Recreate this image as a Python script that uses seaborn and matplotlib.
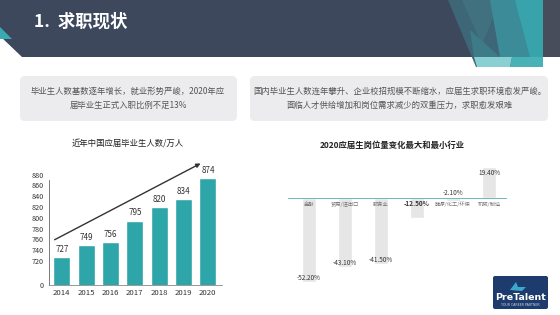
import numpy as np
import pandas as pd
import matplotlib.pyplot as plt
import seaborn as sns
from matplotlib.patches import Polygon, FancyBboxPatch

# ------------------------------------------------------------
# data
# ------------------------------------------------------------
years = ["2014", "2015", "2016", "2017", "2018", "2019", "2020"]
grads = [727, 749, 756, 795, 820, 834, 874]

industries = ["金融", "贸易/进出口", "服务业", "", "能源/化工/环保", "机械/制造"]
change_pct = [-52.2, -43.1, -41.5, -12.5, -2.1, 19.4]

left_ticks = [720, 740, 760, 780, 800, 820, 840, 860, 880]

W, H = 560, 315
TEAL = "#2ea5a9"
NAVY = "#3e485d"


def px(x0, y0, x1, y1):
    # pixel box -> figure fraction
    return [x0 / W, 1 - y1 / H, (x1 - x0) / W, (y1 - y0) / H]


sns.set_theme(style="white")
plt.rcParams["font.family"] = ["Noto Sans CJK SC", "DejaVu Sans"]

fig = plt.figure(figsize=(5.6, 3.15), dpi=100)
fig.patch.set_facecolor("white")

# ------------------------------------------------------------
# background: header band, decorations, text boxes, logo
# ------------------------------------------------------------
bg = fig.add_axes([0, 0, 1, 1], zorder=0)
bg.set_xlim(0, W)
bg.set_ylim(H, 0)
bg.axis("off")

bg.add_patch(Polygon([(0, 0), (W, 0), (W, 57), (22, 57), (0, 36)], closed=True, color=NAVY, lw=0))
bg.add_patch(Polygon([(0, 27), (12, 39), (0, 39)], closed=True, color="#3aa9b0", lw=0))

# right side teal facets
bg.add_patch(Polygon([(448, 0), (543, 0), (543, 67), (476, 67)], closed=True, color="#3d6676", lw=0))
bg.add_patch(Polygon([(462, 0), (500, 0), (482, 45)], closed=True, color="#41707f", lw=0))
bg.add_patch(Polygon([(490, 0), (543, 0), (543, 57), (500, 57)], closed=True, color="#3b8c98", lw=0))
bg.add_patch(Polygon([(515, 0), (543, 0), (543, 57), (530, 57)], closed=True, color="#38a3ab", lw=0))
bg.add_patch(Polygon([(470, 30), (500, 57), (474, 57)], closed=True, color="#3e7b89", lw=0))
bg.add_patch(Polygon([(474, 57), (512, 57), (510, 67), (477, 67)], closed=True, color="#8ad0d3", lw=0))
bg.add_patch(Polygon([(512, 57), (543, 57), (543, 67), (510, 67)], closed=True, color="#48b2b7", lw=0))
bg.add_patch(Polygon([(543, 0), (W, 0), (W, 57), (543, 57)], closed=True, color="#474d5a", lw=0))

bg.text(34, 22, "1.  求职现状", color="white", fontsize=12.5, fontweight="bold", va="center", ha="left")

# text boxes
for x0, x1 in [(20, 237), (250, 548)]:
    bg.add_patch(FancyBboxPatch((x0 + 5, 81), x1 - x0 - 10, 35,
                                boxstyle="round,pad=5", color="#ececee", lw=0))
txt_kw = dict(fontsize=6.0, color="#555555", ha="center", va="center")
bg.text(128, 91, "毕业生人数基数逐年增长，就业形势严峻，2020年应", **txt_kw)
bg.text(128, 105, "届毕业生正式入职比例不足13%", **txt_kw)
bg.text(400, 91, "国内毕业生人数连年攀升、企业校招规模不断缩水，应届生求职环境愈发严峻。", **txt_kw)
bg.text(400, 105, "面临人才供给增加和岗位需求减少的双重压力，求职愈发艰难", **txt_kw)

# chart titles
bg.text(128, 143, "近年中国应届毕业生人数/万人", fontsize=6.0, color="#222222", ha="center", va="center")
bg.text(392, 145, "2020应届生岗位量变化最大和最小行业", fontsize=6.0, color="#222222", ha="center", va="center",
        fontweight="bold")

# logo
bg.add_patch(FancyBboxPatch((495, 278), 51, 29, boxstyle="round,pad=2", color="#1d3b6c", lw=0))
bg.add_patch(Polygon([(510, 290), (516, 282), (518, 287), (526, 287), (522, 291)], closed=True, color="#3aa9c9", lw=0))
bg.text(520.5, 297, "PreTalent", fontsize=6.8, color="white", ha="center", va="center", fontweight="bold",
        family="DejaVu Sans")
bg.text(520.5, 304.5, "YOUR CAREER PARTNER", fontsize=2.3, color="#c8d4e6", ha="center", va="center",
        family="DejaVu Sans")

# ------------------------------------------------------------
# left chart: graduates per year
# ------------------------------------------------------------
ax = fig.add_axes(px(49, 160, 222, 285), zorder=2)
ax.patch.set_alpha(0)
df1 = pd.DataFrame({"year": years, "grads": grads})
sns.barplot(data=df1, x="year", y="grads", color=TEAL, saturation=1, width=0.7, ax=ax)
ax.set_ylim(675.6, 907)
ax.set_xlim(-0.53, 6.58)
ax.set_yticks([675.6] + left_ticks)
ax.set_yticklabels(["0"] + [str(t) for t in left_ticks])
ax.set_xlabel("")
ax.set_ylabel("")
ax.tick_params(axis="y", labelsize=5.2, colors="#333333", length=0, pad=4)
ax.tick_params(axis="x", labelsize=5.6, colors="#333333", length=0, pad=3)
for s in ["top", "right"]:
    ax.spines[s].set_visible(False)
ax.spines["left"].set_bounds(675.6, 870)
ax.spines["left"].set_color("#666666")
ax.spines["bottom"].set_color("#888888")
ax.spines["left"].set_linewidth(0.6)
ax.spines["bottom"].set_linewidth(0.6)
for i, v in enumerate(grads):
    ax.text(i, v + 14, str(v), ha="center", va="center", fontsize=5.8, color="#333333")
ax.annotate("", xy=(5.8, 903), xytext=(-0.4, 757),
            arrowprops=dict(arrowstyle="-|>", color="#333333", lw=1.0, mutation_scale=6),
            annotation_clip=False)

# ------------------------------------------------------------
# right chart: job change by industry
# ------------------------------------------------------------
ax2 = fig.add_axes(px(288, 160, 507, 290), zorder=2)
ax2.patch.set_alpha(0)
df2 = pd.DataFrame({"industry": [n if n else " " for n in industries], "pct": change_pct})
df2["pos"] = range(len(df2))
sns.barplot(data=df2, x="pos", y="pct", color="#e6e6e6", saturation=1, width=0.37, ax=ax2)
ax2.set_xlim(-0.58, 5.5)
ax2.set_ylim(-57.5, 23.75)
ax2.axhline(0, color="#6fb8b8", lw=0.7)
ax2.axis("off")
for i, (name, v) in enumerate(zip(industries, change_pct)):
    if name:
        ax2.text(i, -3.8, name, ha="center", va="center", fontsize=3.8, color="#777777")
    if v < -10:
        ypos, bold = v + 2.5, False
        if v > -20:
            ypos, bold = -3.5, True
    elif v < 0:
        ypos, bold = 3, False
    else:
        ypos, bold = v - 3.5, False
    ax2.text(i, ypos, f"{v:.2f}%", ha="center", va="center", fontsize=4.6, color="#333333",
             fontweight="bold" if bold else "normal")

fig.savefig("out.png", dpi=100)
